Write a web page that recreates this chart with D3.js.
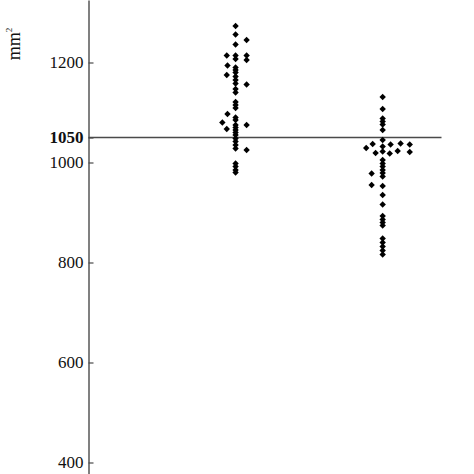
<!DOCTYPE html>
<html>
<head>
<meta charset="utf-8">
<script src="https://cdn.jsdelivr.net/npm/d3@7"></script>
<style>
  html, body { margin: 0; padding: 0; background: #fff; }
  #chart { width: 474px; height: 474px; }
  text { font-family: "Liberation Serif", "Times New Roman", serif; }
</style>
</head>
<body>
<div id="chart"></div>
<script>
"use strict";

// group 1 (left column) and group 2 (right column), mm^2
const group1Values = [
  1273, 1256, 1236, 1214, 1207, 1190, 1185, 1180, 1172, 1165, 1158, 1147, 1140,
  1121, 1115, 1109, 1090, 1085, 1075, 1070, 1065, 1060, 1055, 1048, 1042, 1035,
  1028, 998, 992, 985, 980,
  1245, 1214, 1214, 1205, 1194, 1175, 1156, 1097, 1080, 1075, 1067, 1025
];
const group1Jitter = [
  0, 0, 0, 0, 0, 0, 0, 0, 0, 0, 0, 0, 0,
  0, 0, 0, 0, 0, 0, 0, 0, 0, 0, 0, 0, 0,
  0, 0, 0, 0, 0,
  0.075, -0.06, 0.075, 0.075, -0.055, -0.06, 0.075, -0.055, -0.09, 0.075, -0.06, 0.075
];

const group2Values = [
  1131, 1107, 1088, 1082, 1076, 1065, 1045, 1032, 1022, 1005, 998, 992, 985,
  979, 972, 953, 935, 916, 893, 886, 880, 874, 848, 840, 832, 824, 816,
  1029, 1037, 1019, 1036, 1018, 1038, 1023, 1036, 1021, 978, 955
];
const group2Jitter = [
  0, 0, 0, 0, 0, 0, 0, 0, 0, 0, 0, 0, 0,
  0, 0, 0, 0, 0, 0, 0, 0, 0, 0, 0, 0, 0, 0,
  -0.112, -0.068, -0.048, 0.054, 0.048, 0.122, 0.102, 0.184, 0.184, -0.075, -0.075
];

const yTicks = [400, 600, 800, 1000, 1200];
const refValue = 1050;
const yLabel = "mm";

window.addEventListener("load", function () {
  draw();
});

function buildPoints() {
  const pts = [];
  group1Values.forEach((v, i) => pts.push({ group: 1, jitter: group1Jitter[i], value: v }));
  group2Values.forEach((v, i) => pts.push({ group: 2, jitter: group2Jitter[i], value: v }));
  return pts;
}

function draw() {
  const w = 474;
  const h = 474;

  const xScale = d3.scaleLinear()
    .domain([0, 2.4])
    .range([88.5, 441.5]);

  const yScale = d3.scaleLinear()
    .domain([377, 1325])
    .range([h, 0]);

  const svg = d3.select("#chart")
    .append("svg")
    .attr("width", w)
    .attr("height", h);

  // reference line
  svg.append("line")
    .attr("x1", xScale(0))
    .attr("x2", xScale(2.4))
    .attr("y1", yScale(refValue))
    .attr("y2", yScale(refValue))
    .attr("stroke", "#4a4a4a")
    .attr("stroke-width", 1.4);

  const yAxis = svg.append("g")
    .attr("transform", `translate(${xScale(0)}, 0)`)
    .call(d3.axisLeft(yScale)
      .tickValues(yTicks.concat([refValue]))
      .tickFormat(d3.format("d"))
      .tickSizeInner(-5)
      .tickSizeOuter(0)
      .tickPadding(5));

  yAxis.select(".domain")
    .attr("stroke", "#4a4a4a")
    .attr("stroke-width", 1.4);
  yAxis.selectAll(".tick line")
    .attr("stroke", "#4a4a4a")
    .attr("stroke-width", 1.2);
  yAxis.selectAll(".tick text")
    .attr("font-size", 17)
    .attr("fill", "#111")
    .attr("font-weight", d => d === refValue ? "bold" : "normal");

  // y label: mm²
  const label = svg.append("text")
    .attr("transform", "translate(20, 44) rotate(-90)")
    .attr("text-anchor", "middle")
    .attr("font-size", 18)
    .attr("fill", "#111");
  label.append("tspan").text(yLabel);
  label.append("tspan")
    .attr("font-size", 9)
    .attr("dy", -8)
    .text("2");

  svg.selectAll("path.pt")
    .data(buildPoints())
    .enter()
    .append("path")
    .attr("class", "pt")
    .attr("d", d3.symbol().type(d3.symbolDiamond2).size(26))
    .attr("transform", d => `translate(${xScale(d.group + d.jitter)}, ${yScale(d.value)})`)
    .attr("fill", "#000");
}
</script>
</body>
</html>
